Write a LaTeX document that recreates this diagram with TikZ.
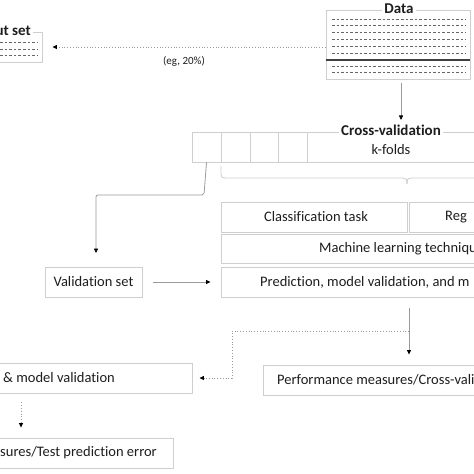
\documentclass[tikz,border=0pt]{standalone}
\usepackage{fontspec}
\setmainfont[RawFeature={-liga;-calt;-dlig;-clig}]{Carlito}
\usetikzlibrary{arrows.meta}
\definecolor{boxc}{HTML}{CFCFCF}
\definecolor{linec}{HTML}{9A9A9A}
\definecolor{txtc}{HTML}{1E1E1E}
\tikzset{
  box/.style={draw=boxc, line width=0.9pt, inner sep=0pt, fill=white},
  txt/.style={inner sep=0pt, text=txtc, font=\fontsize{14.5}{17}\selectfont},
  ttl/.style={inner sep=2.5pt, fill=white, text=txtc, font=\fontsize{15}{17}\selectfont\bfseries},
  small/.style={inner sep=0pt, text=txtc, font=\fontsize{11}{13}\selectfont},
  conn/.style={draw=linec, line width=0.8pt, -{Triangle[length=4.5pt,width=4pt,fill=black,color=black]}},
  dconn/.style={draw=linec, line width=0.8pt, dotted, -{Triangle[length=4.5pt,width=4pt,fill=black,color=black]}},
  dash rows/.style={draw=gray!80!black, line width=0.7pt, dash pattern=on 2.6pt off 2pt},
  brk/.style={draw=boxc, line width=0.9pt},
}
\begin{document}
\begin{tikzpicture}[x=1pt,y=-1pt]
\useasboundingbox (0,0) rectangle (474,474);
\clip (0,0) rectangle (474,474);
\fill[white] (0,0) rectangle (474,474);

% Data box
\node[box, minimum width=144pt, minimum height=69pt] (data) at (398,44.5) {};
\foreach \yy in {19,25,32,39,46,53,66,72}
  \draw[dash rows] (332,\yy) -- (466,\yy);
\draw[line width=1.6pt, draw=black!75] (data.west |- 0,60) -- (data.east |- 0,60);
\node[ttl] (datat) at (399,9) {Data};

% Holdout box
\node[box, minimum width=47pt, minimum height=30pt] (hold) at (18.5,47) {};
\foreach \yy in {42,49,55}
  \draw[dash rows] (0,\yy) -- (37,\yy);
\node[ttl, anchor=east] (holdt) at (33.5,31) {ut set};

% Data -> holdout
\draw[dconn, shorten >=10pt] ([yshift=-2.5pt]data.west) -- (hold.east);
\node[small] (eg) at (184,61) {(eg, 20\%)};

% Cross-validation folds
\node[box, minimum width=29pt, minimum height=30pt] (f1) at (206.5,147) {};
\node[box, minimum width=29pt, minimum height=30pt] (f2) at (235.5,147) {};
\node[box, minimum width=28pt, minimum height=30pt] (f3) at (264,147) {};
\node[box, minimum width=29pt, minimum height=30pt] (f4) at (292.5,147) {};
\node[box, minimum width=213pt, minimum height=30pt] (f5) at (413.5,147) {};
\node[ttl] (cvt) at (391,130) {Cross-validation};
\node[txt] (kf) at (391,150) {k-folds};

% Data -> cross-validation
\draw[conn, shorten <=4pt, shorten >=2pt] (data.south -| 401,0) -- (cvt.north -| 401,0);

% bracket
\draw[brk] (221,166) -- (221,174) .. controls (221,177) and (222,178) .. (225,178) -- (403,178) .. controls (406,178) and (407,179) .. (407,184);
\draw[brk] (407,184) .. controls (407,179) and (408,178) .. (411,178) -- (480,178);

% Right boxes
\node[box, minimum width=186pt, minimum height=30pt] (cls) at (314,217) {};
\node[txt] (clst) at (316,217) {Classification task};
\node[box, minimum width=111pt, minimum height=30pt] (reg) at (464.5,217) {};
\node[txt, anchor=west] (regt) at (445,217) {Reg};
\node[box, minimum width=299pt, minimum height=29pt] (ml) at (370.5,248.5) {};
\node[txt, anchor=west] (mlt) at (319,249) {Machine learning techniqu};
\node[box, minimum width=299pt, minimum height=30pt] (pred) at (370.5,282) {};
\node[txt, anchor=west] (predt) at (260,282) {Prediction, model validation, and m};

% Validation set
\node[box, minimum width=97pt, minimum height=30pt] (val) at (93.5,282) {};
\node[txt] (valt) at (93.5,282) {Validation set};

% fold 1 -> validation set
\draw[conn, rounded corners=2pt, shorten >=14pt] (f1.south) -- (204,195) -- (96,195) -- (96,267);
% validation -> prediction
\draw[conn, shorten <=11pt, shorten >=10pt] (val.east) -- (pred.west |- val.east);

% lower boxes
\node[box, minimum width=257pt, minimum height=30pt] (perf) at (391.5,380) {};
\node[txt, anchor=west] (perft) at (277,380) {Performance measures/Cross-vali};
\node[box, minimum width=202pt, minimum height=30pt] (mv) at (91,378) {};
\node[txt, anchor=west] (mvt) at (3,378) {\& model validation};
\node[box, minimum width=183pt, minimum height=30pt] (bot) at (81.5,453) {};
\node[txt, anchor=east] (bott) at (157,453) {sures/Test prediction error};

% prediction -> performance
\coordinate (jn) at (409,331);
\draw[conn, shorten <=11pt, shorten >=10pt] (pred.south -| 409,0) -- (perf.north -| 409,0);
\draw[dconn, shorten >=7pt] (jn) -- (232,331) -- (232,378) -- (mv.east);
% mv -> bottom
\draw[dconn, shorten <=9pt, shorten >=10pt] (mv.south -| 21,0) -- (bot.north -| 21,0);
\end{tikzpicture}
\end{document}
